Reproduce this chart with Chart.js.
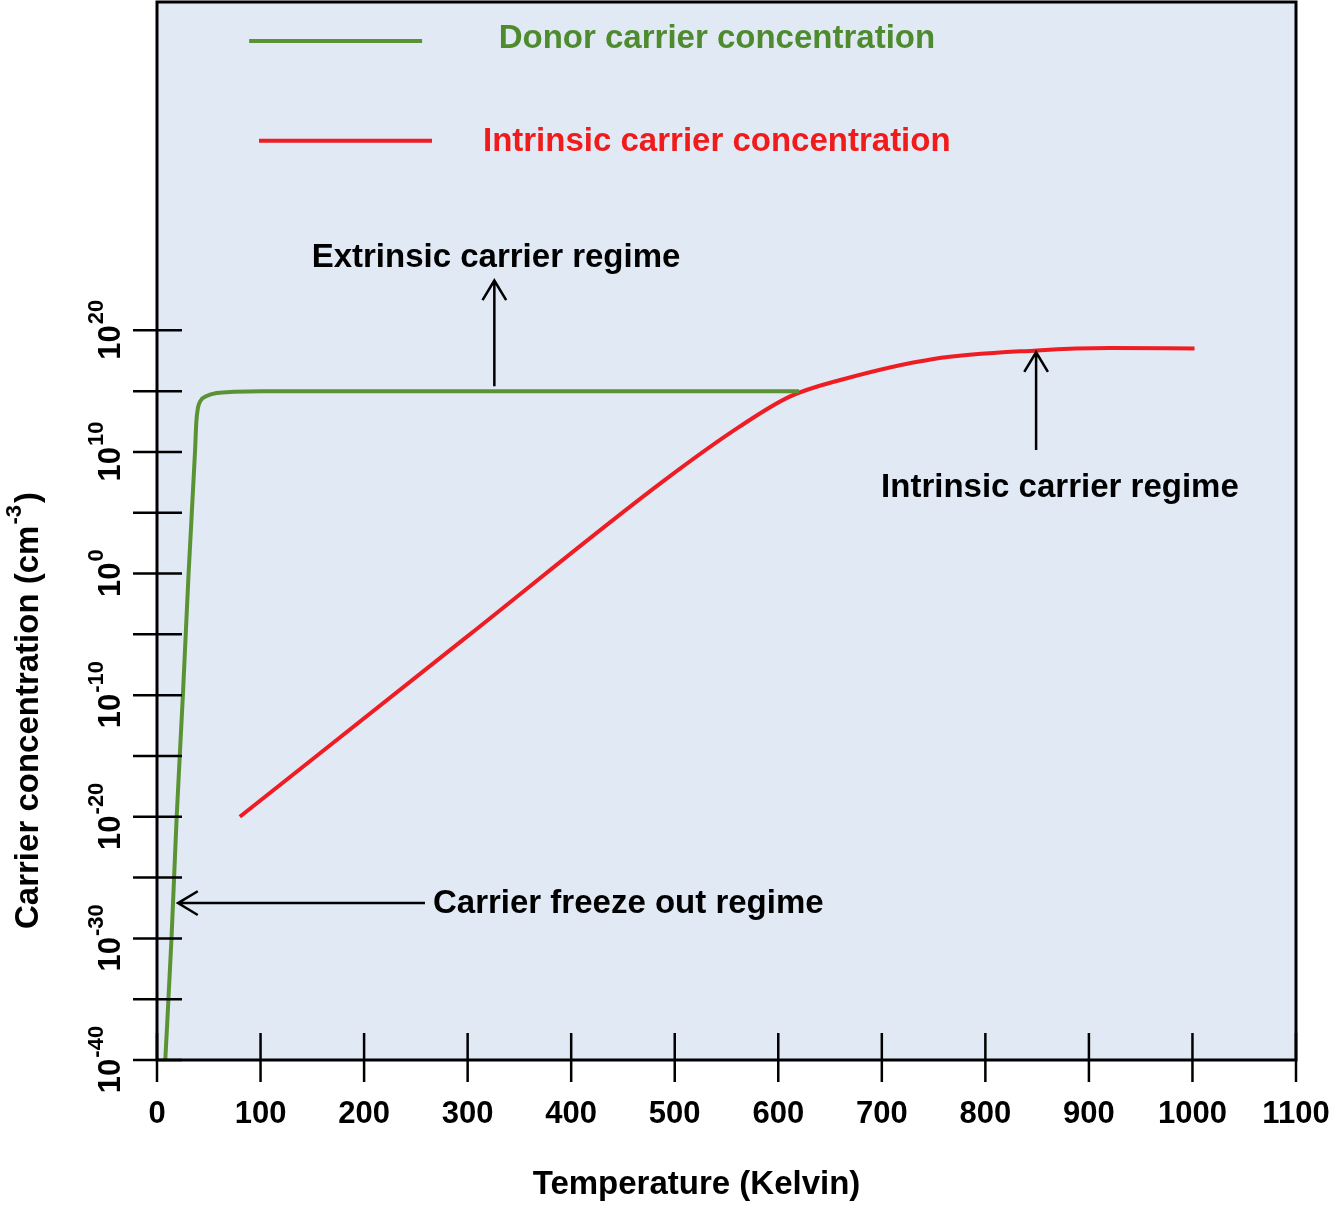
<!DOCTYPE html>
<html>
<head>
<meta charset="utf-8">
<script src="https://cdn.jsdelivr.net/npm/chart.js@4"></script>
<style>
  body { margin: 0; background: #fff; }
  canvas { display: block; }
</style>
</head>
<body>
<canvas id="grafica" width="1330" height="1205"></canvas>
<script>
// ================= DATOS =================
// temperatura (K) y exponente log10 de la concentracion (cm^-3)
const donorT   = [8, 14, 19, 25, 30.5, 36.7, 38, 39.5, 42, 48, 58, 75, 100, 200, 620];
const donorExp = [-40, -30, -20, -10, 0, 10, 12.5, 13.6, 14.2, 14.6, 14.85, 14.95, 15, 15, 15];

const intrinsicT   = [80, 300, 489, 563, 611, 660, 750, 850, 920, 1002];
const intrinsicExp = [-20, -5.15, 7.6, 12.1, 14.55, 15.92, 17.65, 18.35, 18.55, 18.5];

const xTicks = [0, 100, 200, 300, 400, 500, 600, 700, 800, 900, 1000, 1100];
const yMajor = [-40, -30, -20, -10, 0, 10, 20];
const yMinor = [-35, -25, -15, -5, 5, 15];

const COLORES = {
  fondo: "#E1E9F5",
  verde: "#5B9334",
  verdeTexto: "#4E8B2E",
  rojo: "#EE1D23",
  rojoTexto: "#F01B1B",
  negro: "#000000"
};

const FUENTE = '"Liberation Sans", Arial, sans-serif';

function puntos(xs, ys) {
  return xs.map((x, i) => ({ x, y: ys[i] }));
}

// flecha con punta abierta
function flecha(ctx, x1, y1, x2, y2) {
  const ang = Math.atan2(y2 - y1, x2 - x1);
  const largo = 23, ancho = 0.54;
  ctx.beginPath();
  ctx.moveTo(x1, y1);
  ctx.lineTo(x2, y2);
  ctx.moveTo(x2 - largo * Math.cos(ang - ancho), y2 - largo * Math.sin(ang - ancho));
  ctx.lineTo(x2, y2);
  ctx.lineTo(x2 - largo * Math.cos(ang + ancho), y2 - largo * Math.sin(ang + ancho));
  ctx.stroke();
}

// ================= FONDO =================
const fondoPlugin = {
  id: "fondo",
  beforeDraw(chart) {
    const { ctx, chartArea: a } = chart;
    ctx.save();
    ctx.fillStyle = COLORES.fondo;
    ctx.fillRect(a.left, a.top, a.right - a.left, a.bottom - a.top);
    ctx.restore();
  }
};

// ================= EJES Y TEXTOS =================
const ejesPlugin = {
  id: "ejes",
  afterDraw(chart) {
    const { ctx, chartArea: a } = chart;
    const xs = chart.scales.x, ys = chart.scales.y;
    const X = v => xs.getPixelForValue(v);
    const Y = v => ys.getPixelForValue(v);

    ctx.save();
    ctx.strokeStyle = COLORES.negro;
    ctx.lineCap = "butt";

    // marco
    ctx.lineWidth = 3;
    ctx.strokeRect(a.left, a.top, a.right - a.left, a.bottom - a.top);

    // ticks eje x
    ctx.lineWidth = 2.5;
    xTicks.forEach(t => {
      const px = X(t);
      ctx.beginPath();
      ctx.moveTo(px, a.bottom - 27);
      ctx.lineTo(px, a.bottom + 22);
      ctx.stroke();
    });

    // ticks eje y
    [...yMajor, ...yMinor].forEach(t => {
      const py = Y(t);
      ctx.beginPath();
      ctx.moveTo(a.left - 24, py);
      ctx.lineTo(a.left + 25, py);
      ctx.stroke();
    });

    ctx.fillStyle = COLORES.negro;

    // etiquetas eje x
    ctx.font = "bold 31px " + FUENTE;
    ctx.textAlign = "center";
    ctx.textBaseline = "middle";
    xTicks.forEach(t => {
      ctx.fillText(String(t), X(t), a.bottom + 54);
    });

    // etiquetas eje y (rotadas, con superindice)
    yMajor.forEach(t => {
      const py = Y(t);
      const base = "10", sup = String(t);
      ctx.save();
      ctx.translate(a.left - 37, py);
      ctx.rotate(-Math.PI / 2);
      ctx.textAlign = "left";
      ctx.textBaseline = "alphabetic";
      ctx.font = "bold 31px " + FUENTE;
      const wb = ctx.measureText(base).width;
      ctx.font = "bold 22px " + FUENTE;
      const ws = ctx.measureText(sup).width;
      const x0 = -(wb + ws) / 2;
      ctx.font = "bold 31px " + FUENTE;
      ctx.fillText(base, x0, 0);
      ctx.font = "bold 22px " + FUENTE;
      ctx.fillText(sup, x0 + wb + 1, -17);
      ctx.restore();
    });

    // titulo eje x
    ctx.font = "bold 33px " + FUENTE;
    ctx.textAlign = "center";
    ctx.textBaseline = "middle";
    ctx.fillText("Temperature (Kelvin)", (a.left + a.right) / 2 - 30, 1185);

    // titulo eje y
    ctx.save();
    ctx.translate(38, 712);
    ctx.rotate(-Math.PI / 2);
    ctx.textAlign = "left";
    ctx.textBaseline = "alphabetic";
    const t1 = "Carrier concentration (cm", t2 = "-3", t3 = ")";
    ctx.font = "bold 33px " + FUENTE;
    const w1 = ctx.measureText(t1).width, w3 = ctx.measureText(t3).width;
    ctx.font = "bold 22px " + FUENTE;
    const w2 = ctx.measureText(t2).width;
    let x0 = -(w1 + w2 + w3) / 2;
    ctx.font = "bold 33px " + FUENTE;
    ctx.fillText(t1, x0, 0);
    ctx.font = "bold 22px " + FUENTE;
    ctx.fillText(t2, x0 + w1 + 1, -17);
    ctx.font = "bold 33px " + FUENTE;
    ctx.fillText(t3, x0 + w1 + w2 + 3, 0);
    ctx.restore();

    // leyenda
    ctx.lineWidth = 4;
    ctx.strokeStyle = COLORES.verde;
    ctx.beginPath();
    ctx.moveTo(X(89), Y(43.8));
    ctx.lineTo(X(256), Y(43.8));
    ctx.stroke();
    ctx.strokeStyle = COLORES.rojo;
    ctx.beginPath();
    ctx.moveTo(X(98.5), Y(35.6));
    ctx.lineTo(X(265.6), Y(35.6));
    ctx.stroke();

    ctx.font = "bold 33px " + FUENTE;
    ctx.textAlign = "left";
    ctx.textBaseline = "middle";
    ctx.fillStyle = COLORES.verdeTexto;
    ctx.fillText("Donor carrier concentration", X(330), Y(43.95));
    ctx.fillStyle = COLORES.rojoTexto;
    ctx.fillText("Intrinsic carrier concentration", X(314.8), Y(35.5));

    // regimenes
    ctx.fillStyle = COLORES.negro;
    ctx.strokeStyle = COLORES.negro;
    ctx.lineWidth = 2.5;
    ctx.textAlign = "center";
    ctx.fillText("Extrinsic carrier regime", X(327.4), Y(25.95));
    ctx.fillText("Intrinsic carrier regime", X(872), Y(7.05));
    ctx.textAlign = "left";
    ctx.fillText("Carrier freeze out regime", X(266.5), Y(-27.15));

    flecha(ctx, X(325.8), Y(15.4), X(325.8), Y(24.1));
    flecha(ctx, X(849), Y(10.16), X(849), Y(18.2));
    flecha(ctx, X(258.8), Y(-27.1), X(20.3), Y(-27.1));

    ctx.restore();
  }
};

// ================= GRAFICA =================
new Chart(document.getElementById("grafica"), {
  type: "line",
  data: {
    datasets: [
      {
        label: "Donor carrier concentration",
        data: puntos(donorT, donorExp),
        borderColor: COLORES.verde,
        borderWidth: 4,
        pointRadius: 0,
        fill: false,
        cubicInterpolationMode: "monotone"
      },
      {
        label: "Intrinsic carrier concentration",
        data: puntos(intrinsicT, intrinsicExp),
        borderColor: COLORES.rojo,
        borderWidth: 4,
        pointRadius: 0,
        fill: false,
        cubicInterpolationMode: "monotone"
      }
    ]
  },
  options: {
    responsive: false,
    animation: false,
    layout: { padding: { left: 157, right: 34, top: 2, bottom: 145 } },
    plugins: { legend: { display: false }, tooltip: { enabled: false } },
    scales: {
      x: { type: "linear", min: 0, max: 1100, display: false },
      y: { type: "linear", min: -40, max: 47, display: false }
    }
  },
  plugins: [fondoPlugin, ejesPlugin]
});
</script>
</body>
</html>
